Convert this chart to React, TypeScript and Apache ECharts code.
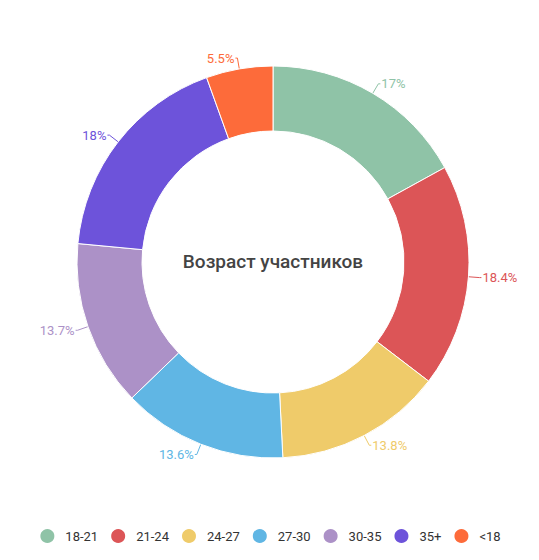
import React, { useEffect, useRef } from "react";
import * as echarts from "echarts";

const categories = ["18-21", "21-24", "24-27", "27-30", "30-35", "35+", "<18"];
const values = [17, 18.4, 13.8, 13.6, 13.7, 18, 5.5];
const colors = ["#8fc3a7", "#dc5557", "#efcb6a", "#60b6e4", "#ac91c7", "#6d53da", "#fd6b3a"];
const title = "Возраст участников";

export default function App() {
  const ref = useRef<HTMLDivElement>(null);
  useEffect(() => {
    if (!ref.current) return;
    const chart = echarts.init(ref.current, undefined, { renderer: "svg" });
    chart.setOption({
      animation: false,
      color: colors,
      textStyle: { fontFamily: "Roboto" },
      title: {
        text: title,
        left: 268,
        top: 256,
        textAlign: "center",
        textVerticalAlign: "middle",
        textStyle: { fontSize: 19, fontWeight: 500, color: "#444", fontFamily: "Roboto" },
      },
      legend: {
        bottom: 10,
        left: "center",
        icon: "circle",
        itemWidth: 16,
        itemHeight: 16,
        itemGap: 11,
        textStyle: { fontSize: 13, color: "#333", fontFamily: "Roboto", padding: [0, 0, 0, 5] },
        data: categories,
      },
      series: [
        {
          type: "pie",
          center: [273, 262],
          radius: [131, 196],
          startAngle: 90,
          itemStyle: { borderColor: "#fff", borderWidth: 1 },
          label: {
            show: true,
            formatter: (p: any) => p.value + "%",
            color: "inherit",
            fontSize: 13,
            fontFamily: "Roboto",
            distanceToLabelLine: 1,
          },
          labelLine: { show: true, length: 11, length2: 2, lineStyle: { width: 1 } },
          data: categories.map((c, i) => ({
            name: c,
            value: values[i],
            label: { color: colors[i] },
          })),
        },
      ],
    });
    return () => chart.dispose();
  }, []);
  return (
    <div
      ref={ref}
      style={{ position: "fixed", left: 0, top: 0, width: 539, height: 560, background: "#fff" }}
    />
  );
}
